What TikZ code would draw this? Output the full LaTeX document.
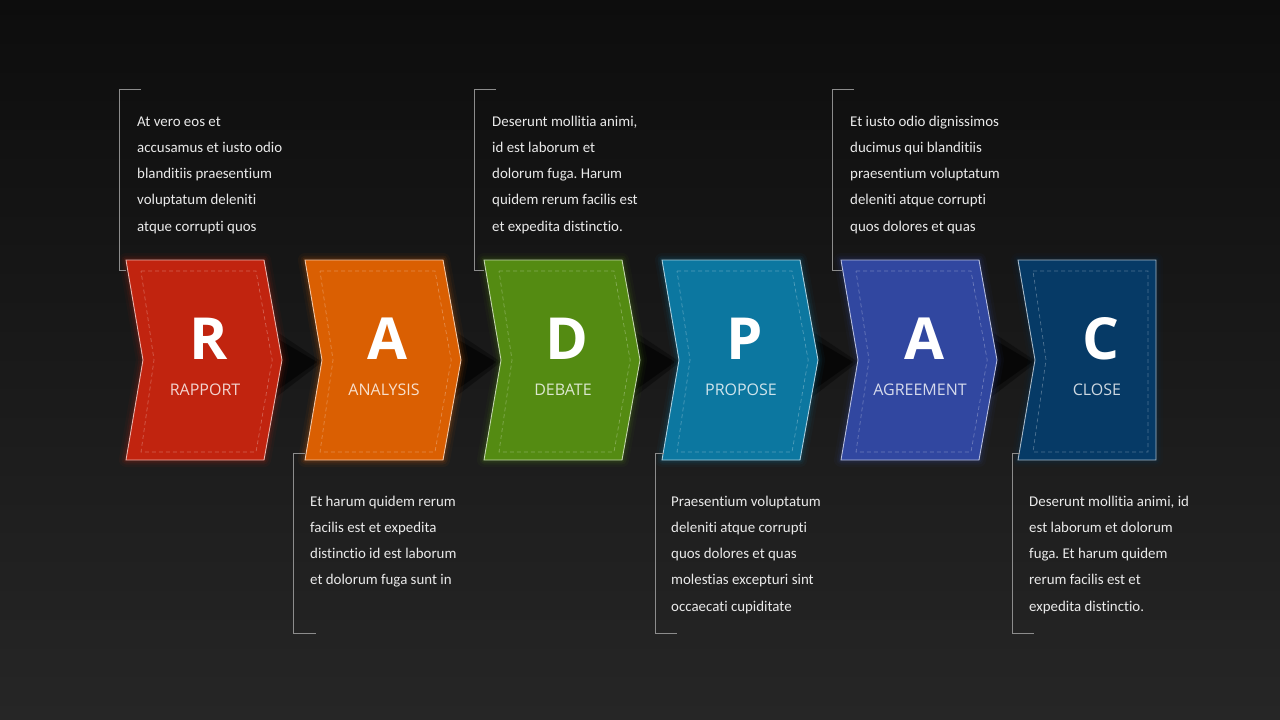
\documentclass[tikz,border=0pt]{standalone}
\usepackage{fontspec}
\setmainfont{Carlito}[Ligatures={NoCommon}]
\newfontfamily\headfont{Open Sans}
\definecolor{cR}{HTML}{C1240F}
\definecolor{cA}{HTML}{DA5F02}
\definecolor{cD}{HTML}{548B12}
\definecolor{cP}{HTML}{0C77A0}
\definecolor{cG}{HTML}{3147A0}
\definecolor{cC}{HTML}{063A66}
\definecolor{bgtop}{HTML}{0D0D0D}
\definecolor{bgbot}{HTML}{262626}
\definecolor{brk}{HTML}{8C8C8C}
\definecolor{ptext}{HTML}{EAEAEA}
\tikzset{
  bracket/.style={draw=brk, line width=0.9pt},
  para/.style={anchor=base west, inner sep=0pt, align=left, text=ptext,
    font=\frenchspacing\fontsize{14.9}{26.3}\selectfont},
  bigletter/.style={inner sep=0pt, text=white, font=\headfont\bfseries\fontsize{58}{60}\selectfont},
  steplabel/.style={inner sep=0pt, text=white, text opacity=0.8, font=\headfont\fontsize{16}{18}\selectfont},
}
\begin{document}
\begin{tikzpicture}[x=1pt,y=-1pt]
\shade[top color=bgtop, bottom color=bgbot] (0,0) rectangle (1280,720);
\useasboundingbox (0,0) rectangle (1280,720);
% shadows between chevrons
\foreach \x in {126,305,484,662,841}{
  \fill[black, opacity=0.35] ({\x+136},322) -- ({\x+196},362) -- ({\x+136},408) -- cycle;
  \fill[black, opacity=0.55] ({\x+140},332) -- ({\x+191},362) -- ({\x+140},398) -- cycle;
}
\foreach \x/\c/\n/\L/\lab/\t in {126/cR/r/R/RAPPORT/18, 305/cA/a/A/ANALYSIS/18, 484/cD/d/D/DEBATE/18, 662/cP/p/P/PROPOSE/18, 841/cG/g/A/AGREEMENT/18, 1018/cC/c/C/CLOSE/0}{
  \foreach \w/\o in {14/0.05,9/0.08,5/0.12}{
    \draw[\c, line width=\w, opacity=\o, line join=round]
      (\x,260) -- ({\x+138},260) -- ({\x+138+\t},360) -- ({\x+138},460) -- (\x,460) -- ({\x+17},360) -- cycle;
  }
  \fill[\c] (\x,260) -- ({\x+138},260) -- ({\x+138+\t},360) -- ({\x+138},460) -- (\x,460) -- ({\x+17},360) -- cycle;
  \draw[\c!35!white, line width=0.9pt, line join=miter]
      (\x,260) -- ({\x+138},260) -- ({\x+138+\t},360) -- ({\x+138},460) -- (\x,460) -- ({\x+17},360) -- cycle;
  \draw[\c!65!white, line width=0.7pt, dash pattern=on 4pt off 3pt, opacity=0.8]
      ({\x+15},271) -- ({\x+130},271) -- ({\x+130+\t*0.9},360) -- ({\x+130},452) -- ({\x+15},452) -- ({\x+28},360) -- cycle;
  \node[bigletter] (\n-letter) at ({\x+83},339) {\L};
  \node[steplabel] (\n-label) at ({\x+79},390) {\lab};
}
% brackets top
\coordinate (t1a) at (141,89); \coordinate (t1b) at (119,89); \coordinate (t1c) at (119,270); \coordinate (t1d) at (126,270);
\draw[bracket] (t1a) -- (t1b) -- (t1c) -- (t1d);
\coordinate (t2a) at (496,89); \coordinate (t2b) at (474,89); \coordinate (t2c) at (474,270); \coordinate (t2d) at (484,270);
\draw[bracket] (t2a) -- (t2b) -- (t2c) -- (t2d);
\coordinate (t3a) at (854,89); \coordinate (t3b) at (832,89); \coordinate (t3c) at (832,270); \coordinate (t3d) at (842,270);
\draw[bracket] (t3a) -- (t3b) -- (t3c) -- (t3d);
% brackets bottom
\coordinate (b1a) at (305,453); \coordinate (b1b) at (293,453); \coordinate (b1c) at (293,633); \coordinate (b1d) at (316,633);
\draw[bracket] (b1a) -- (b1b) -- (b1c) -- (b1d);
\coordinate (b2a) at (664,453); \coordinate (b2b) at (655,453); \coordinate (b2c) at (655,633); \coordinate (b2d) at (677,633);
\draw[bracket] (b2a) -- (b2b) -- (b2c) -- (b2d);
\coordinate (b3a) at (1020,453); \coordinate (b3b) at (1012,453); \coordinate (b3c) at (1012,633); \coordinate (b3d) at (1034,633);
\draw[bracket] (b3a) -- (b3b) -- (b3c) -- (b3d);
% paragraphs (anchor = baseline of last line)
\node[para] (txt1) at (137,231.2) {At vero eos et\\accusamus et iusto odio\\blanditiis praesentium\\voluptatum deleniti\\atque corrupti quos};
\node[para] (txt3) at (492,231.2) {Deserunt mollitia animi,\\id est laborum et\\dolorum fuga. Harum\\quidem rerum facilis est\\et expedita distinctio.};
\node[para] (txt5) at (850,231.2) {Et iusto odio dignissimos\\ducimus qui blanditiis\\praesentium voluptatum\\deleniti atque corrupti\\quos dolores et quas};
\node[para] (txt2) at (310,584.9) {Et harum quidem rerum\\facilis est et expedita\\distinctio id est laborum\\et dolorum fuga sunt in};
\node[para] (txt4) at (671,611.2) {Praesentium voluptatum\\deleniti atque corrupti\\quos dolores et quas\\molestias excepturi sint\\occaecati cupiditate};
\node[para] (txt6) at (1029,611.2) {Deserunt mollitia animi, id\\est laborum et dolorum\\fuga. Et harum quidem\\rerum facilis est et\\expedita distinctio.};
\end{tikzpicture}
\end{document}
